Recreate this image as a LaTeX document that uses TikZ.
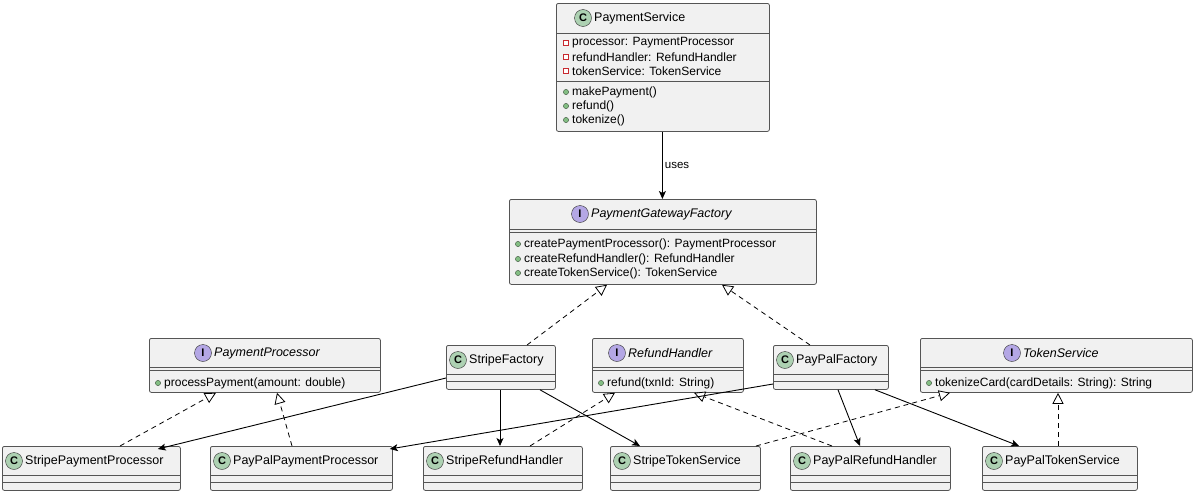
\documentclass[tikz,border=0pt]{standalone}
\usepackage{fontspec}
\setmainfont{Liberation Sans}
\usetikzlibrary{arrows.meta}
\definecolor{boxfill}{HTML}{F1F1F1}
\definecolor{boxline}{HTML}{555555}
\definecolor{cgreen}{HTML}{ADD1B2}
\definecolor{ipurple}{HTML}{B4A7E5}
\definecolor{privred}{HTML}{C82930}
\definecolor{pubgreen}{HTML}{84BE84}
\tikzset{
 box/.style={draw=boxline,fill=boxfill,rounded corners=2pt,inner sep=0pt,line width=0.8pt},
 sep/.style={draw=boxline,line width=0.7pt},
 iconC/.style={circle,draw=black!80,fill=cgreen,minimum size=17pt,inner sep=0pt,font=\fontsize{11}{11}\selectfont\bfseries},
 iconI/.style={circle,draw=black!80,fill=ipurple,minimum size=17pt,inner sep=0pt,font=\fontsize{11}{11}\selectfont\bfseries},
 titleC/.style={inner sep=0pt,font=\fontsize{12.5}{14}\selectfont},
 titleI/.style={inner sep=0pt,font=\fontsize{12.5}{14}\selectfont\itshape},
 memt/.style={inner sep=0pt,anchor=west,font=\fontsize{12}{14}\selectfont},
 realize/.style={densely dashed,dash pattern=on 5pt off 4pt,line width=0.8pt,-{Triangle[open,length=11pt,width=11pt,fill=white]}},
 dep/.style={line width=0.9pt,-{Stealth[length=8pt,width=7pt,inset=2pt]}},
}
\newcommand\cls[8]{%
 \node[box,anchor=north west,minimum width={(#4-#2)*1pt},minimum height={(#5-#3)*1pt}] (#1) at (#2,#3) {};
 \node[icon#6] (#1-i) at (#8,#3+15) {#6};
 \node[title#6,anchor=west] (#1-t) at (#8+11,#3+15) {#7};}
\newcommand\hsep[3]{\draw[sep] (#1,#3) -- (#2,#3);}
\newcommand\priv[3]{\draw[privred,line width=0.7pt,fill=white] (#1-2.5,#2-2.5) rectangle (#1+2.5,#2+2.5);
 \node[memt] at (#1+6,#2) {#3};}
\newcommand\pub[3]{\fill[pubgreen] (#1,#2) circle (2.6pt); \draw[black!60!pubgreen,line width=0.4pt] (#1,#2) circle (2.6pt);
 \node[memt] at (#1+6,#2) {#3};}
\newcommand\empt[5]{\hsep{#1}{#2}{#3}\hsep{#1}{#2}{#4}}
\begin{document}
\begin{tikzpicture}[x=1pt,y=-1pt]
\useasboundingbox (0,0) rectangle (1200,498);
% PaymentService
\cls{ps}{556}{3}{769}{131}{C}{PaymentService}{583}
\hsep{556}{769}{33}\hsep{556}{769}{81}
\priv{566}{43}{processor: PaymentProcessor}
\priv{566}{57}{refundHandler: RefundHandler}
\priv{566}{71}{tokenService: TokenService}
\pub{566}{92}{makePayment()}
\pub{566}{106}{refund()}
\pub{566}{120}{tokenize()}
% PaymentGatewayFactory
\cls{pgf}{509}{199}{816}{284}{I}{PaymentGatewayFactory}{580}
\hsep{509}{816}{229}\hsep{509}{816}{232}
\pub{518}{244}{createPaymentProcessor(): PaymentProcessor}
\pub{518}{259}{createRefundHandler(): RefundHandler}
\pub{518}{273}{createTokenService(): TokenService}
% PaymentProcessor
\cls{pp}{149}{338}{380}{392}{I}{PaymentProcessor}{203}
\hsep{149}{380}{367}\hsep{149}{380}{370}
\pub{158}{383}{processPayment(amount: double)}
% StripeFactory
\cls{sf}{446}{345}{555}{389}{C}{StripeFactory}{458}
\hsep{446}{555}{374}\hsep{446}{555}{381}
% RefundHandler
\cls{rh}{592}{338}{743}{392}{I}{RefundHandler}{617}
\hsep{592}{743}{367}\hsep{592}{743}{370}
\pub{601}{383}{refund(txnId: String)}
% PayPalFactory
\cls{ppf}{773}{345}{888}{389}{C}{PayPalFactory}{785}
\hsep{773}{888}{374}\hsep{773}{888}{381}
% TokenService
\cls{ts}{920}{338}{1192}{392}{I}{TokenService}{1012}
\hsep{920}{1192}{367}\hsep{920}{1192}{370}
\pub{929}{383}{tokenizeCard(cardDetails: String): String}
% bottom row
\cls{spp}{2}{446}{180}{490}{C}{StripePaymentProcessor}{14}
\hsep{2}{180}{475}\hsep{2}{180}{482}
\cls{ppp}{210}{446}{392}{490}{C}{PayPalPaymentProcessor}{222}
\hsep{210}{392}{475}\hsep{210}{392}{482}
\cls{srh}{423}{446}{582}{490}{C}{StripeRefundHandler}{435}
\hsep{423}{582}{475}\hsep{423}{582}{482}
\cls{sts}{610}{446}{760}{490}{C}{StripeTokenService}{622}
\hsep{610}{760}{475}\hsep{610}{760}{482}
\cls{pprh}{790}{446}{950}{490}{C}{PayPalRefundHandler}{802}
\hsep{790}{950}{475}\hsep{790}{950}{482}
\cls{ppts}{982}{446}{1137}{490}{C}{PayPalTokenService}{994}
\hsep{982}{1137}{475}\hsep{982}{1137}{482}
% uses
\draw[dep] ([xshift=-0.5pt]ps.south) -- node[right,pos=0.5,inner sep=2pt,font=\fontsize{11.5}{13}\selectfont]{uses} ([xshift=-0.5pt]pgf.north);
% realizations
\draw[realize] ([xshift=81pt]sf.north west) -- ([xshift=98pt]pgf.south west);
\draw[realize] ([xshift=37pt]ppf.north west) -- ([xshift=213pt]pgf.south west);
\draw[realize] ([xshift=118pt]spp.north west) -- ([xshift=67pt]pp.south west);
\draw[realize] ([xshift=82pt]ppp.north west) -- ([xshift=128pt]pp.south west);
\draw[realize] ([xshift=107pt]srh.north west) -- ([xshift=23pt]rh.south west);
\draw[realize] ([xshift=42pt]pprh.north west) -- ([xshift=102pt]rh.south west);
\draw[realize] ([xshift=146pt]sts.north west) -- ([xshift=30pt]ts.south west);
\draw[realize] ([xshift=76pt]ppts.north west) -- ([xshift=138pt]ts.south west);
% dependencies
\draw[dep] ([yshift=-33pt]sf.north west) -- ([xshift=-23pt,yshift=-3pt]spp.north east);
\draw[dep] ([xshift=54pt]sf.south west) -- ([xshift=77pt]srh.north west);
\draw[dep] ([xshift=94pt]sf.south west) -- ([xshift=30pt]sts.north west);
\draw[dep] ([yshift=-39pt]ppf.north west) -- ([xshift=-3pt,yshift=-3pt]ppp.north east);
\draw[dep] ([xshift=65pt]ppf.south west) -- ([xshift=70pt]pprh.north west);
\draw[dep] ([xshift=102pt]ppf.south west) -- ([xshift=37pt]ppts.north west);
\end{tikzpicture}
\end{document}
